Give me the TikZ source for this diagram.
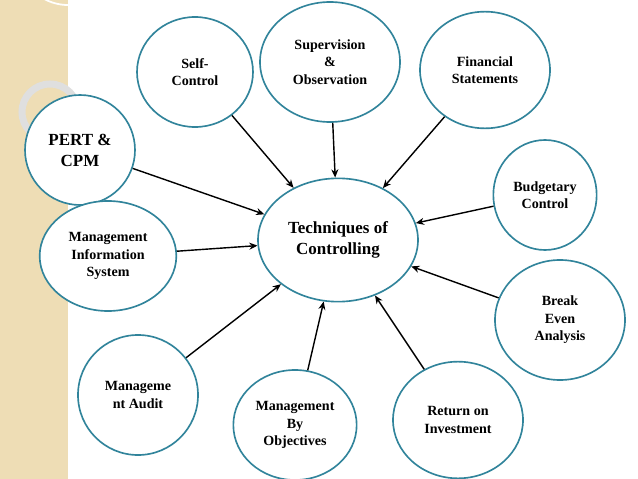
\documentclass[tikz,border=0pt]{standalone}
\usepackage{fontspec}
\setmainfont{Liberation Serif}
\usetikzlibrary{shapes.geometric,arrows.meta}
\definecolor{teal}{HTML}{31849B}
\definecolor{beige}{HTML}{EEDDB5}
\begin{document}
\begin{tikzpicture}[x=0.03cm,y=-0.03cm,
  bub/.style={ellipse,draw=teal,line width=1.4pt,fill=white,inner sep=0pt,align=center,font=\bfseries\fontsize{12}{15}\selectfont},
  big/.style={font=\bfseries\fontsize{14.5}{18}\selectfont},
  arr/.style={-{Stealth[length=7pt,width=6pt]},line width=1.2pt}]
\useasboundingbox (0,0) rectangle (638,479);
\fill[white] (0,0) rectangle (638,479);
\fill[beige] (0,0) rectangle (68,479);
\draw[gray!25,line width=6pt] (50,112) circle[radius=28];
\draw[white,line width=1.5pt] (68,5) arc[start angle=90,end angle=200,radius=50];
\node[bub,minimum width=3.48cm,minimum height=3.3cm] (selfc) at (195,72) {Self-\\Control};
\node[bub,minimum width=4.2cm,minimum height=3.6cm] (sup) at (330,62) {Supervision\\\&\\Observation};
\node[bub,minimum width=3.9cm,minimum height=3.5cm] (fin) at (485,70) {Financial\\Statements};
\node[bub,big,minimum width=3.3cm,minimum height=3.3cm] (pert) at (80,150) {PERT \&\\CPM};
\node[bub,minimum width=3.1cm,minimum height=3.3cm] (bud) at (545,195) {Budgetary\\Control};
\node[bub,big,minimum width=4.8cm,minimum height=3.7cm] (tech) at (338,240) {Techniques of\\Controlling};
\node[bub,minimum width=4.1cm,minimum height=3.3cm] (mis) at (108,256) {Management\\Information\\System};
\node[bub,minimum width=3.9cm,minimum height=3.6cm] (be) at (560,320) {Break\\Even\\Analysis};
\node[bub,minimum width=3.6cm,minimum height=3.6cm] (ma) at (138,395) {Manageme\\nt Audit};
\node[bub,minimum width=3.7cm,minimum height=3.3cm] (mbo) at (295,425) {Management\\By\\Objectives};
\node[bub,minimum width=3.9cm,minimum height=3.5cm] (roi) at (458,420) {Return on\\Investment};
\draw[arr] (selfc) -- (tech);
\draw[arr] (sup) -- (tech);
\draw[arr] (fin) -- (tech);
\draw[arr] (pert) -- (tech);
\draw[arr] (bud) -- (tech);
\draw[arr] (mis) -- (tech);
\draw[arr] (be) -- (tech);
\draw[arr] (ma) -- (tech);
\draw[arr] (mbo) -- (tech);
\draw[arr] (roi) -- (tech);
\end{tikzpicture}
\end{document}
